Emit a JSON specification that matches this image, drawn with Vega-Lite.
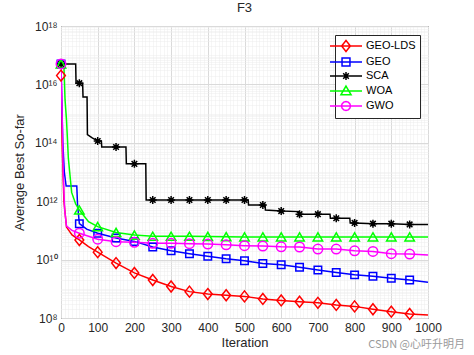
{
  "$schema": "https://vega.github.io/schema/vega-lite/v6.json",
  "width": 367,
  "height": 292,
  "autosize": {"type": "none"},
  "padding": {"left": 61, "top": 26, "right": 46, "bottom": 37},
  "background": "white",
  "config": {
    "font": "Liberation Sans",
    "view": {"stroke": "#262626", "strokeWidth": 1},
    "axis": {"labelColor": "#262626", "titleColor": "#262626", "labelFontSize": 12, "titleFontSize": 13, "titleFontWeight": "normal", "domain": false, "ticks": false, "labelFlush": false}
  },
  "title": {"text": "F3", "fontSize": 13, "fontWeight": "normal", "color": "#262626", "offset": 5},
  "data": {"values": [
    {"s":"GEO-LDS","x":0,"y":2e16,"m":1},{"s":"GEO-LDS","x":3,"y":1e14,"m":0},{"s":"GEO-LDS","x":8,"y":1e12,"m":0},{"s":"GEO-LDS","x":15,"y":1.3e11,"m":0},{"s":"GEO-LDS","x":30,"y":7e10,"m":0},{"s":"GEO-LDS","x":50,"y":4.7e10,"m":1},{"s":"GEO-LDS","x":75,"y":2.8e10,"m":0},{"s":"GEO-LDS","x":100,"y":1.8e10,"m":1},{"s":"GEO-LDS","x":150,"y":7.6e9,"m":1},{"s":"GEO-LDS","x":200,"y":3.5e9,"m":1},{"s":"GEO-LDS","x":250,"y":2e9,"m":1},{"s":"GEO-LDS","x":300,"y":1.2e9,"m":1},{"s":"GEO-LDS","x":350,"y":8e8,"m":1},{"s":"GEO-LDS","x":400,"y":6.6e8,"m":1},{"s":"GEO-LDS","x":450,"y":6e8,"m":1},{"s":"GEO-LDS","x":500,"y":5.5e8,"m":1},{"s":"GEO-LDS","x":550,"y":4.5e8,"m":1},{"s":"GEO-LDS","x":600,"y":4e8,"m":1},{"s":"GEO-LDS","x":650,"y":3.6e8,"m":1},{"s":"GEO-LDS","x":700,"y":3.3e8,"m":1},{"s":"GEO-LDS","x":750,"y":2.8e8,"m":1},{"s":"GEO-LDS","x":800,"y":2.5e8,"m":1},{"s":"GEO-LDS","x":850,"y":2e8,"m":1},{"s":"GEO-LDS","x":900,"y":1.65e8,"m":1},{"s":"GEO-LDS","x":950,"y":1.38e8,"m":1},{"s":"GEO-LDS","x":1000,"y":1.27e8,"m":0},

    {"s":"GEO","x":0,"y":5e16,"m":1},{"s":"GEO","x":3,"y":1e15,"m":0},{"s":"GEO","x":5,"y":1e14,"m":0},{"s":"GEO","x":9,"y":1e13,"m":0},{"s":"GEO","x":14,"y":3.3e12,"m":0},{"s":"GEO","x":43,"y":3.3e12,"m":0},{"s":"GEO","x":45,"y":8e11,"m":0},{"s":"GEO","x":50,"y":1.7e11,"m":1},{"s":"GEO","x":70,"y":1.1e11,"m":0},{"s":"GEO","x":100,"y":8e10,"m":1},{"s":"GEO","x":150,"y":5.5e10,"m":1},{"s":"GEO","x":200,"y":4.2e10,"m":1},{"s":"GEO","x":250,"y":2.7e10,"m":1},{"s":"GEO","x":300,"y":2e10,"m":1},{"s":"GEO","x":350,"y":1.6e10,"m":1},{"s":"GEO","x":400,"y":1.3e10,"m":1},{"s":"GEO","x":450,"y":1.07e10,"m":1},{"s":"GEO","x":500,"y":9.2e9,"m":1},{"s":"GEO","x":550,"y":7.4e9,"m":1},{"s":"GEO","x":600,"y":6.7e9,"m":1},{"s":"GEO","x":650,"y":5.5e9,"m":1},{"s":"GEO","x":700,"y":4.4e9,"m":1},{"s":"GEO","x":750,"y":3.6e9,"m":1},{"s":"GEO","x":800,"y":3e9,"m":1},{"s":"GEO","x":850,"y":2.7e9,"m":1},{"s":"GEO","x":900,"y":2.3e9,"m":1},{"s":"GEO","x":950,"y":2e9,"m":1},{"s":"GEO","x":1000,"y":1.66e9,"m":0},

    {"s":"SCA","x":0,"y":5e16,"m":1},{"s":"SCA","x":40,"y":5e16,"m":0},{"s":"SCA","x":41,"y":1.1e16,"m":0},{"s":"SCA","x":50,"y":1.1e16,"m":1},{"s":"SCA","x":59,"y":1.1e16,"m":0},{"s":"SCA","x":60,"y":3.7e15,"m":0},{"s":"SCA","x":71,"y":3.7e15,"m":0},{"s":"SCA","x":72,"y":1.9e14,"m":0},{"s":"SCA","x":84,"y":1.5e14,"m":0},{"s":"SCA","x":100,"y":1.15e14,"m":1},{"s":"SCA","x":110,"y":1.15e14,"m":0},{"s":"SCA","x":111,"y":7.2e13,"m":0},{"s":"SCA","x":150,"y":7.2e13,"m":1},{"s":"SCA","x":177,"y":7.2e13,"m":0},{"s":"SCA","x":178,"y":1.9e13,"m":0},{"s":"SCA","x":200,"y":1.9e13,"m":1},{"s":"SCA","x":231,"y":1.9e13,"m":0},{"s":"SCA","x":232,"y":1.1e12,"m":0},{"s":"SCA","x":250,"y":1.1e12,"m":1},{"s":"SCA","x":300,"y":1.1e12,"m":1},{"s":"SCA","x":350,"y":1.1e12,"m":1},{"s":"SCA","x":400,"y":1.1e12,"m":1},{"s":"SCA","x":450,"y":1.1e12,"m":1},{"s":"SCA","x":500,"y":1.1e12,"m":1},{"s":"SCA","x":510,"y":1.1e12,"m":0},{"s":"SCA","x":511,"y":7.4e11,"m":0},{"s":"SCA","x":550,"y":7.4e11,"m":1},{"s":"SCA","x":556,"y":7.4e11,"m":0},{"s":"SCA","x":557,"y":5e11,"m":0},{"s":"SCA","x":600,"y":4.6e11,"m":1},{"s":"SCA","x":648,"y":4.4e11,"m":0},{"s":"SCA","x":649,"y":3.6e11,"m":0},{"s":"SCA","x":650,"y":3.6e11,"m":1},{"s":"SCA","x":700,"y":3.6e11,"m":1},{"s":"SCA","x":733,"y":3.6e11,"m":0},{"s":"SCA","x":734,"y":2.6e11,"m":0},{"s":"SCA","x":750,"y":2.6e11,"m":1},{"s":"SCA","x":787,"y":2.6e11,"m":0},{"s":"SCA","x":788,"y":1.8e11,"m":0},{"s":"SCA","x":800,"y":1.8e11,"m":1},{"s":"SCA","x":850,"y":1.7e11,"m":1},{"s":"SCA","x":900,"y":1.7e11,"m":1},{"s":"SCA","x":950,"y":1.6e11,"m":1},{"s":"SCA","x":1000,"y":1.6e11,"m":0},

    {"s":"WOA","x":0,"y":5e16,"m":1},{"s":"WOA","x":8,"y":4e16,"m":0},{"s":"WOA","x":11,"y":3e15,"m":0},{"s":"WOA","x":15,"y":6e14,"m":0},{"s":"WOA","x":20,"y":3e13,"m":0},{"s":"WOA","x":29,"y":2e12,"m":0},{"s":"WOA","x":40,"y":8e11,"m":0},{"s":"WOA","x":50,"y":5e11,"m":1},{"s":"WOA","x":75,"y":2e11,"m":0},{"s":"WOA","x":100,"y":1.35e11,"m":1},{"s":"WOA","x":150,"y":8.5e10,"m":1},{"s":"WOA","x":200,"y":6.9e10,"m":1},{"s":"WOA","x":250,"y":6.3e10,"m":1},{"s":"WOA","x":300,"y":6.3e10,"m":1},{"s":"WOA","x":350,"y":6.3e10,"m":1},{"s":"WOA","x":400,"y":6.2e10,"m":1},{"s":"WOA","x":450,"y":6.1e10,"m":1},{"s":"WOA","x":500,"y":6e10,"m":1},{"s":"WOA","x":550,"y":6e10,"m":1},{"s":"WOA","x":600,"y":6e10,"m":1},{"s":"WOA","x":650,"y":6e10,"m":1},{"s":"WOA","x":700,"y":6e10,"m":1},{"s":"WOA","x":750,"y":6e10,"m":1},{"s":"WOA","x":800,"y":6e10,"m":1},{"s":"WOA","x":850,"y":6e10,"m":1},{"s":"WOA","x":900,"y":6e10,"m":1},{"s":"WOA","x":950,"y":6e10,"m":1},{"s":"WOA","x":1000,"y":6e10,"m":0},

    {"s":"GWO","x":0,"y":5e16,"m":1},{"s":"GWO","x":3,"y":1e15,"m":0},{"s":"GWO","x":6,"y":1e13,"m":0},{"s":"GWO","x":10,"y":5e11,"m":0},{"s":"GWO","x":15,"y":1.4e11,"m":0},{"s":"GWO","x":30,"y":1e11,"m":0},{"s":"GWO","x":50,"y":8e10,"m":1},{"s":"GWO","x":100,"y":5e10,"m":1},{"s":"GWO","x":150,"y":4.1e10,"m":1},{"s":"GWO","x":200,"y":3.9e10,"m":1},{"s":"GWO","x":250,"y":3.6e10,"m":1},{"s":"GWO","x":300,"y":3.6e10,"m":1},{"s":"GWO","x":350,"y":3.5e10,"m":1},{"s":"GWO","x":400,"y":3.4e10,"m":1},{"s":"GWO","x":450,"y":3.2e10,"m":1},{"s":"GWO","x":500,"y":3e10,"m":1},{"s":"GWO","x":550,"y":2.9e10,"m":1},{"s":"GWO","x":600,"y":2.75e10,"m":1},{"s":"GWO","x":650,"y":2.7e10,"m":1},{"s":"GWO","x":700,"y":2.3e10,"m":1},{"s":"GWO","x":750,"y":2.3e10,"m":1},{"s":"GWO","x":800,"y":2e10,"m":1},{"s":"GWO","x":850,"y":1.9e10,"m":1},{"s":"GWO","x":900,"y":1.6e10,"m":1},{"s":"GWO","x":950,"y":1.55e10,"m":1},{"s":"GWO","x":1000,"y":1.45e10,"m":0}
  ]},
  "encoding": {
    "x": {"field": "x", "type": "quantitative", "scale": {"domain": [0, 1000], "nice": false},
      "axis": {"title": "Iteration", "format": "d", "values": [0,10,20,30,40,50,60,70,80,90,100,110,120,130,140,150,160,170,180,190,200,210,220,230,240,250,260,270,280,290,300,310,320,330,340,350,360,370,380,390,400,410,420,430,440,450,460,470,480,490,500,510,520,530,540,550,560,570,580,590,600,610,620,630,640,650,660,670,680,690,700,710,720,730,740,750,760,770,780,790,800,810,820,830,840,850,860,870,880,890,900,910,920,930,940,950,960,970,980,990,1000],
        "labelExpr": "datum.value % 100 == 0 ? datum.label : ''", "labelOverlap": false, "labelPadding": 4, "titlePadding": 3,
        "gridColor": {"condition": {"test": "datum.value % 100 == 0", "value": "#dadada"}, "value": "#ececec"},
        "gridDash": {"condition": {"test": "datum.value % 100 == 0", "value": []}, "value": [1, 1]}}},
    "y": {"field": "y", "type": "quantitative", "scale": {"type": "log", "domain": [1e8, 1e18], "nice": false},
      "axis": {"title": "Average Best So-far", "values": [1e8,2e8,3e8,4e8,5e8,6e8,7e8,8e8,9e8,1e9,2e9,3e9,4e9,5e9,6e9,7e9,8e9,9e9,1e10,2e10,3e10,4e10,5e10,6e10,7e10,8e10,9e10,1e11,2e11,3e11,4e11,5e11,6e11,7e11,8e11,9e11,1e12,2e12,3e12,4e12,5e12,6e12,7e12,8e12,9e12,1e13,2e13,3e13,4e13,5e13,6e13,7e13,8e13,9e13,1e14,2e14,3e14,4e14,5e14,6e14,7e14,8e14,9e14,1e15,2e15,3e15,4e15,5e15,6e15,7e15,8e15,9e15,1e16,2e16,3e16,4e16,5e16,6e16,7e16,8e16,9e16,1e17,2e17,3e17,4e17,5e17,6e17,7e17,8e17,9e17,1e18],
        "labelExpr": "datum.value == 1e8 ? '10⁸' : datum.value == 1e10 ? '10¹⁰' : datum.value == 1e12 ? '10¹²' : datum.value == 1e14 ? '10¹⁴' : datum.value == 1e16 ? '10¹⁶' : datum.value == 1e18 ? '10¹⁸' : ''",
        "labelOverlap": false, "labelPadding": 4, "titlePadding": 8,
        "gridColor": {"condition": {"test": "datum.value == 1e8 || datum.value == 1e10 || datum.value == 1e12 || datum.value == 1e14 || datum.value == 1e16 || datum.value == 1e18", "value": "#dadada"}, "value": "#ececec"},
        "gridDash": {"condition": {"test": "datum.value == 1e8 || datum.value == 1e10 || datum.value == 1e12 || datum.value == 1e14 || datum.value == 1e16 || datum.value == 1e18", "value": []}, "value": [1, 1]}}},
    "color": {"field": "s", "type": "nominal",
      "scale": {"domain": ["GEO-LDS", "GEO", "SCA", "WOA", "GWO"], "range": ["#ff0000", "#0000ff", "#000000", "#00ff00", "#ff00ff"]},
      "legend": {"title": null, "orient": "none", "legendX": 274, "legendY": 9, "fillColor": "white", "strokeColor": "#262626", "padding": 4,
        "symbolSize": 144, "symbolStrokeWidth": 1.5, "symbolOpacity": 1, "labelFontSize": 11, "labelColor": "#000000", "labelOffset": 13, "rowPadding": 0}}
  },
  "layer": [
    {"mark": {"type": "line", "strokeWidth": 1.5, "clip": true}},
    {"transform": [{"filter": "datum.m == 1 && datum.s == 'GEO-LDS'"}],
      "mark": {"type": "point", "filled": false, "strokeWidth": 1.5, "opacity": 1, "shape": "M0,-1L0.8,0L0,1L-0.8,0Z", "size": 120}},
    {"transform": [{"filter": "datum.m == 1 && datum.s == 'GEO'"}],
      "mark": {"type": "point", "filled": false, "strokeWidth": 1.5, "opacity": 1, "shape": "square", "size": 56}},
    {"transform": [{"filter": "datum.m == 1 && datum.s == 'SCA'"}],
      "mark": {"type": "point", "filled": false, "strokeWidth": 1.5, "opacity": 1, "shape": "M-1,0L1,0M0,-1L0,1M-0.7,-0.7L0.7,0.7M-0.7,0.7L0.7,-0.7", "size": 64}},
    {"transform": [{"filter": "datum.m == 1 && datum.s == 'WOA'"}],
      "mark": {"type": "point", "filled": false, "strokeWidth": 1.5, "opacity": 1, "shape": "triangle-up", "size": 90}},
    {"transform": [{"filter": "datum.m == 1 && datum.s == 'GWO'"}],
      "mark": {"type": "point", "filled": false, "strokeWidth": 1.5, "opacity": 1, "shape": "circle", "size": 90}},
    {"transform": [{"filter": "datum.x < 0"}],
      "mark": {"type": "point", "filled": false, "strokeWidth": 1.5},
      "encoding": {"shape": {"field": "s", "type": "nominal",
        "scale": {"domain": ["GEO-LDS", "GEO", "SCA", "WOA", "GWO"], "range": [
          "M-2.67,0L2.67,0M0,-0.92L0.73,0L0,0.92L-0.73,0Z",
          "M-2.67,0L2.67,0M-0.66,-0.66L0.66,-0.66L0.66,0.66L-0.66,0.66Z",
          "M-2.67,0L2.67,0M-0.66,0L0.66,0M0,-0.66L0,0.66M-0.47,-0.47L0.47,0.47M-0.47,0.47L0.47,-0.47",
          "M-2.67,0L2.67,0M0,-0.82L0.85,0.64L-0.85,0.64Z",
          "M-2.67,0L2.67,0M-0.75,0L-0.65,-0.37L-0.37,-0.65L0,-0.75L0.37,-0.65L0.65,-0.37L0.75,0L0.65,0.37L0.37,0.65L0,0.75L-0.37,0.65L-0.65,0.37Z"]}}}},
    {"transform": [{"filter": "datum.s == 'GEO-LDS' && datum.x == 1000"}],
      "mark": {"type": "text", "text": "CSDN @心吁升明月", "align": "right", "baseline": "middle", "dx": 37, "dy": 30, "fontSize": 11, "font": "Noto Sans CJK SC", "clip": false},
      "encoding": {"color": {"value": "#9a9a9a"}}}
  ]
}
